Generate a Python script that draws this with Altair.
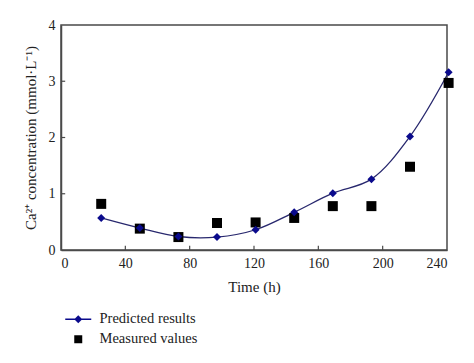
import altair as alt
import pandas as pd

# ---- data ----
time_h = [25, 49, 73, 97, 121, 145, 169, 193, 217, 241]
predicted = [0.57, 0.39, 0.24, 0.23, 0.36, 0.67, 1.01, 1.26, 2.02, 3.16]
measured = [0.82, 0.38, 0.23, 0.48, 0.49, 0.57, 0.78, 0.78, 1.48, 2.97]
series_names = ["Predicted results", "Measured values"]
x_ticks = [0, 40, 80, 120, 160, 200, 240]
y_ticks = [0, 1, 2, 3, 4]
x_inner_ticks = [40, 80, 120, 160, 200]
y_inner_ticks = [1, 2, 3]

FONT = "Liberation Serif"
TXT = "#222222"
FRAME = "#4a4a4a"
NAVY_LINE = "#28286e"
NAVY_PT = "#0a0a8c"

pred_df = pd.DataFrame({"t": time_h, "v": predicted})
meas_df = pd.DataFrame({"t": time_h, "v": measured})
legend_df = pd.DataFrame({"series": series_names, "t": [0, 0], "v": [0, 0]})
xt_df = pd.DataFrame({"t": x_inner_ticks, "v0": [0] * len(x_inner_ticks), "v1": [0.075] * len(x_inner_ticks)})
yt_df = pd.DataFrame({"v": y_inner_ticks, "t0": [0] * len(y_inner_ticks), "t1": [2.6] * len(y_inner_ticks)})

xscale = alt.Scale(domain=[0, 240], nice=False, zero=False)
yscale = alt.Scale(domain=[0, 4], nice=False)

xaxis = alt.Axis(values=x_ticks, format="d", title="Time (h)", ticks=False, tickSize=0, grid=False,
                 labelPadding=6, titlePadding=9, domainColor=FRAME, domainWidth=1.5,
                 labelFont=FONT, labelFontSize=14, labelColor=TXT,
                 titleFont=FONT, titleFontSize=15, titleColor=TXT, titleFontWeight="normal")
yaxis = alt.Axis(values=y_ticks, format="d", title="Ca²⁺ concentration (mmol·L⁻¹)", ticks=False, tickSize=0,
                 grid=False, labelPadding=6, titlePadding=10, domainColor=FRAME, domainWidth=1.5,
                 labelFont=FONT, labelFontSize=14, labelColor=TXT,
                 titleFont=FONT, titleFontSize=15, titleColor=TXT, titleFontWeight="normal")

base_x = alt.X("t:Q", scale=xscale, axis=xaxis)
base_y = alt.Y("v:Q", scale=yscale, axis=yaxis)

line = alt.Chart(pred_df).mark_line(interpolate="catmull-rom", color=NAVY_LINE, strokeWidth=1.3).encode(
    x=base_x, y=base_y
)
diamonds = alt.Chart(pred_df).mark_point(shape="diamond", filled=True, color=NAVY_PT, size=64, opacity=1).encode(
    x="t:Q", y="v:Q"
)
squares = alt.Chart(meas_df).mark_square(color="black", size=100, opacity=1).encode(
    x="t:Q", y="v:Q"
)

xticks = alt.Chart(xt_df).mark_rule(color=FRAME, strokeWidth=1.2).encode(
    x="t:Q", y="v0:Q", y2="v1:Q"
)
yticks = alt.Chart(yt_df).mark_rule(color=FRAME, strokeWidth=1.2).encode(
    y="v:Q", x="t0:Q", x2="t1:Q"
)

diamond_with_bar = "M-3.25,-0.17H3.25V0.17H-3.25Z M0,-1L1,0L0,1L-1,0Z"
leg = alt.Legend(title=None, orient="none", legendX=10, legendY=287,
                 symbolSize=64, labelOffset=14, rowPadding=5, padding=0,
                 labelFont=FONT, labelFontSize=14.5, labelColor=TXT,
                 symbolOpacity=1, symbolStrokeWidth=0)
legend_layer = alt.Chart(legend_df).transform_filter(alt.datum.series == "__none__").mark_point(
    filled=True, opacity=1
).encode(
    x="t:Q", y="v:Q",
    shape=alt.Shape("series:N", scale=alt.Scale(domain=series_names, range=[diamond_with_bar, "square"]),
                    legend=leg),
    color=alt.Color("series:N", scale=alt.Scale(domain=series_names, range=[NAVY_PT, "black"]),
                    legend=leg),
)

chart = alt.layer(line, xticks, yticks, squares, diamonds, legend_layer).properties(
    width=386, height=225,
    autosize=alt.AutoSizeParams(type="none"),
    padding={"left": 53, "top": 17, "right": 19, "bottom": 105},
    background="white",
).configure_view(
    stroke=FRAME, strokeWidth=1.5
)

chart.save("out.html", embed_options={"renderer": "svg", "actions": False})
